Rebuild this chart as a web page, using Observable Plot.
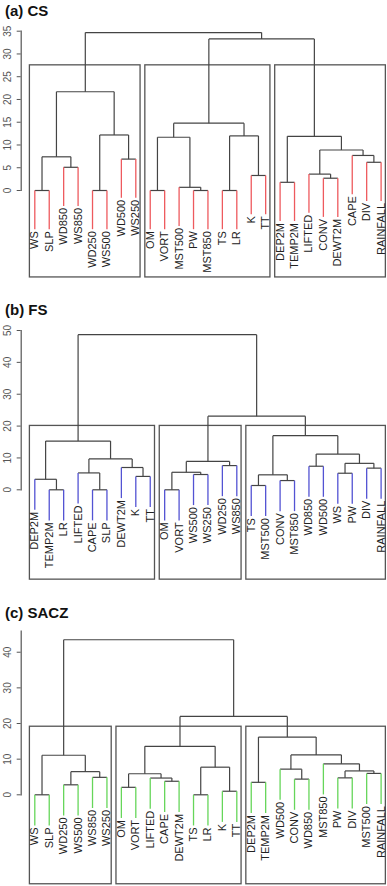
<!DOCTYPE html>
<html>
<head>
<meta charset="utf-8">
<script src="https://cdn.jsdelivr.net/npm/d3@7"></script>
<script src="https://cdn.jsdelivr.net/npm/@observablehq/plot@0.6"></script>
<style>
  html, body { margin: 0; padding: 0; background: #fff; }
  #root { position: relative; width: 387px; height: 886px; overflow: hidden; font-family: "Liberation Sans", Arial, sans-serif; }
  .title { position: absolute; left: 5px; font-weight: bold; font-size: 15px; line-height: 15px; color: #111; white-space: nowrap; }
  .panel { position: absolute; left: 0; }
</style>
</head>
<body>
<div id="root"></div>
<script>
// ---- Data: dendrograms as nested [left, right, mergeHeight] ----
const titles = ["(a) CS", "(b) FS", "(c) SACZ"];

const treeCS = [
  [[["WS", "SLP", 0], ["WD850", "WS850", 5.1], 7.4],
   [["WD250", "WS500", 0], ["WD500", "WS250", 6.9], 12.2], 21.7],
  [
    [[["OM", "VORT", 0], ["MST500", ["PW", "MST850", 0], 0.7], 11.7],
     [["TS", "LR", 0], ["K", "TT", 3.3], 12.0], 14.8],
    [["DEP2M", "TEMP2M", 1.8],
     [["LIFTED", ["CONV", "DEWT2M", 2.7], 3.6],
      ["CAPE", ["DIV", "RAINFALL", 6.2], 7.7], 8.9], 11.9],
    33.3],
  34.7
];

const treeFS = [
  [["DEP2M", ["TEMP2M", "LR", 0], 3.3],
   [["LIFTED", ["CAPE", "SLP", 0], 5.3],
    ["DEWT2M", ["K", "TT", 4.2], 7.0], 9.7], 15.3],
  [
    [[["OM", "VORT", 0], ["WS500", "WS250", 4.8], 5.5],
     ["WD250", "WS850", 7.6], 8.9],
    [[["TS", "MST500", 1.35], ["CONV", "MST850", 2.9], 4.7],
     [["WD850", "WD500", 7.4],
      [["WS", "PW", 5.2], ["DIV", "RAINFALL", 6.8], 8.3], 11.2], 17.0],
    23.1],
  48.7
];

const treeSACZ = [
  [["WS", "SLP", 0],
   [["WD250", "WS500", 2.8], ["WS850", "WS250", 4.9], 6.5], 11.1],
  [
    [[["OM", "VORT", 2.1], ["LIFTED", ["CAPE", "DEWT2M", 3.8], 4.7], 5.9],
     [["TS", "LR", 0], ["K", "TT", 1.0], 7.75], 13.6],
    [["DEP2M", "TEMP2M", 3.5],
     [["WD500", ["CONV", "WD850", 4.4], 7.2],
      ["MST850", [["PW", "DIV", 4.75], ["MST500", "RAINFALL", 6.0], 6.7], 8.7], 11.2], 16.2],
    22.0],
  43.5
];

const ticksCS = [0, 5, 10, 15, 20, 25, 30, 35];
const ticksFS = [0, 10, 20, 30, 40, 50];
const ticksSACZ = [0, 10, 20, 30, 40];

const nClusters = 3;

// ---- Panel layout/style settings ----
const panels = [
  {title: titles[0], tree: treeCS, ticks: ticksCS, ymax: 35, hang: 8.5, yLow: -19.1, color: "#ee5a5e",
   top: 20, height: 270, mt: 10.7, mb: 100, titleTop: 3},
  {title: titles[1], tree: treeFS, ticks: ticksFS, ymax: 50, hang: 9.6, yLow: -28.2, color: "#5353d3",
   top: 290, height: 300, mt: 40, mb: 100.7, titleTop: 302},
  {title: titles[2], tree: treeSACZ, ticks: ticksSACZ, ymax: 45.9, hang: 8.6, yLow: -25.1, color: "#66d65a",
   top: 590, height: 296, mt: 40.7, mb: 91.7, titleTop: 605}
];

function layoutTree(tree, hang) {
  const leaves = [], segs = [], leafSegs = [], heights = [];
  function walk(node) {
    if (typeof node === "string") {
      const i = leaves.length; leaves.push(node);
      return {x: i, leaf: node, lo: i, hi: i};
    }
    const [a, b, h] = node;
    heights.push(h);
    const A = walk(a), B = walk(b);
    segs.push({x1: A.x, x2: B.x, y1: h, y2: h});
    for (const C of [A, B]) {
      if (C.leaf !== undefined) leafSegs.push({x: C.x, y1: h, y2: h - hang, label: C.leaf});
      else segs.push({x1: C.x, x2: C.x, y1: h, y2: C.h});
    }
    return {x: (A.x + B.x) / 2, h, lo: A.lo, hi: B.hi, node};
  }
  const rootInfo = walk(tree);
  // cut into k clusters: split highest merges
  function info(node) {
    // recompute leaf range for a subtree
    let lo = Infinity, hi = -Infinity;
    (function f(n) {
      if (typeof n === "string") { const i = leaves.indexOf(n); lo = Math.min(lo, i); hi = Math.max(hi, i); }
      else { f(n[0]); f(n[1]); }
    })(node);
    return {node, lo, hi, h: typeof node === "string" ? -Infinity : node[2]};
  }
  let groups = [info(tree)];
  while (groups.length < nClusters) {
    groups.sort((p, q) => q.h - p.h);
    const g = groups.shift();
    groups.push(info(g.node[0]), info(g.node[1]));
  }
  const sorted = heights.slice().sort((p, q) => q - p);
  const boxTop = (sorted[nClusters - 2] + sorted[nClusters - 1]) / 2;
  groups.sort((p, q) => p.lo - q.lo);
  return {leaves, segs, leafSegs, groups, boxTop};
}

const root = document.getElementById("root");
const font = "'Liberation Sans', Arial, sans-serif";

for (const p of panels) {
  const L = layoutTree(p.tree, p.hang);
  const chart = Plot.plot({
    width: 387,
    height: p.height,
    marginLeft: 20.7,
    marginRight: 0,
    marginTop: p.mt,
    marginBottom: p.mb,
    style: {fontFamily: font, background: "transparent", overflow: "visible"},
    x: {domain: [0, L.leaves.length - 1], range: [34.3, 380.6], axis: null},
    y: {domain: [0, p.ymax]},
    marks: [
      Plot.rect(L.groups, {
        x1: d => d.lo - 0.34, x2: d => d.hi + 0.33,
        y1: L.boxTop, y2: p.yLow,
        fill: "none", stroke: "#555", strokeWidth: 1.3
      }),
      Plot.link(L.segs, {x1: "x1", x2: "x2", y1: "y1", y2: "y2", stroke: "#444", strokeWidth: 1.2}),
      Plot.link(L.leafSegs, {x1: "x", x2: "x", y1: "y1", y2: "y2", stroke: p.color, strokeWidth: 1.3}),
      Plot.text(L.leafSegs, {
        x: "x", y: "y2", text: "label", rotate: -90, textAnchor: "end",
        lineAnchor: "middle", dy: 2, fontSize: 11, fill: "#222"
      }),
      Plot.frame({anchor: "left", stroke: "#555", strokeWidth: 1.2}),
      Plot.axisY({ticks: p.ticks, tickSize: 4, tickRotate: -90, tickPadding: 6, fontSize: 10, color: "#555", label: null})
    ]
  });
  const wrap = document.createElement("div");
  wrap.className = "panel";
  wrap.style.top = p.top + "px";
  wrap.appendChild(chart);
  root.appendChild(wrap);
  const t = document.createElement("div");
  t.className = "title";
  t.style.top = p.titleTop + "px";
  t.textContent = p.title;
  root.appendChild(t);
}
</script>
</body>
</html>
